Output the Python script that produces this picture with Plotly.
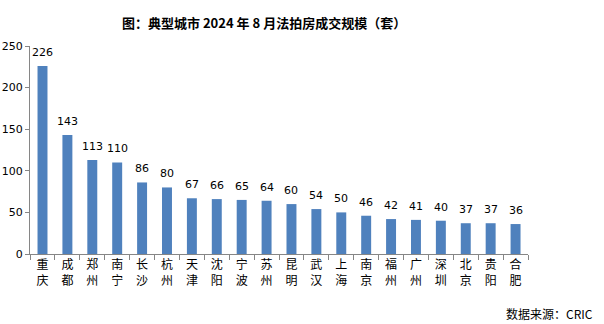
import plotly.graph_objects as go

cities = ["重庆", "成都", "郑州", "南宁", "长沙", "杭州", "天津", "沈阳", "宁波", "苏州",
          "昆明", "武汉", "上海", "南京", "福州", "广州", "深圳", "北京", "贵阳", "合肥"]
values = [226, 143, 113, 110, 86, 80, 67, 66, 65, 64, 60, 54, 50, 46, 42, 41, 40, 37, 37, 36]
y_ticks = [0, 50, 100, 150, 200, 250]
title_text = "图：典型城市 2024 年 8 月法拍房成交规模（套）"
source_text = "数据来源：CRIC"

labels = [c[0] + "<br>" + c[1] for c in cities]

fig = go.Figure()
fig.add_trace(go.Bar(
    x=labels, y=values,
    marker=dict(color="#4F81BD", line=dict(width=0)),
    width=0.4,
    hoverinfo="skip",
))

for lab, v in zip(labels, values):
    fig.add_annotation(x=lab, y=v, text=str(v), showarrow=False, yanchor="bottom",
                       yshift=5, font=dict(family="DejaVu Sans", size=11, color="#000"))

fig.add_annotation(text=title_text, xref="paper", yref="paper", x=0.47, y=1.0,
                   xanchor="center", yanchor="bottom", yshift=12, showarrow=False,
                   font=dict(family="Noto Sans CJK SC", size=13, color="#000", weight="bold"))
fig.add_annotation(text=source_text, xref="paper", yref="paper", x=1.135, y=0,
                   xanchor="right", yanchor="top", yshift=-49, showarrow=False,
                   font=dict(family="Noto Sans CJK SC", size=12, color="#000"))

fig.update_layout(
    width=604, height=324,
    margin=dict(l=30, r=76, t=46, b=70),
    plot_bgcolor="white", paper_bgcolor="white",
    showlegend=False,
)
fig.update_xaxes(
    showline=True, linecolor="#868686", linewidth=1,
    ticks="outside", tickson="boundaries", ticklen=5, tickcolor="#868686",
    tickfont=dict(family="Noto Sans CJK SC", size=12, color="#000"),
    tickangle=0, showgrid=False, automargin=False,
)
fig.update_yaxes(
    range=[0, 250], tickvals=y_ticks,
    showline=True, linecolor="#868686", linewidth=1,
    ticks="outside", ticklen=4, tickcolor="#868686",
    tickfont=dict(family="DejaVu Sans", size=11, color="#000"),
    showgrid=False, zeroline=False, automargin=False,
)

fig.write_html("out.html")
